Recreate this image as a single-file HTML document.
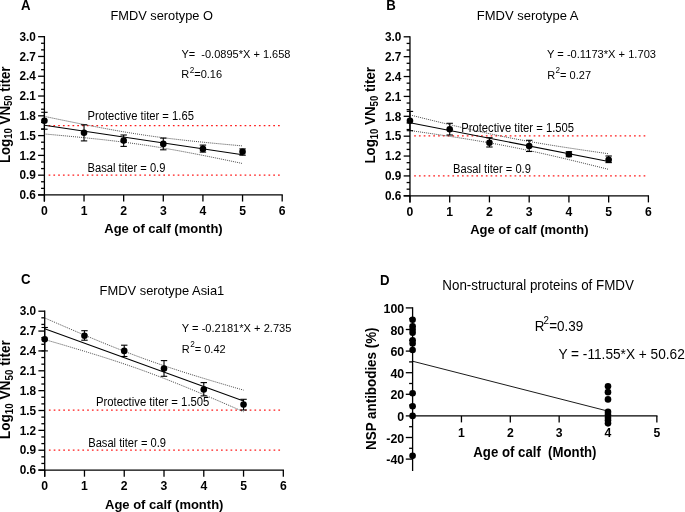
<!DOCTYPE html>
<html><head><meta charset="utf-8"><style>
html,body{margin:0;padding:0;background:#fff;}
svg{display:block;}
text{font-family:"Liberation Sans", Arial, Helvetica, sans-serif;fill:#000;}
</style></head><body>
<svg width="685" height="512" viewBox="0 0 685 512">
<rect width="685" height="512" fill="#fff"/>
<line x1="44.40" y1="36.03" x2="44.40" y2="201.56" stroke="#000" stroke-width="1.3"/>
<line x1="38.10" y1="194.96" x2="44.40" y2="194.96" stroke="#000" stroke-width="1.3"/>
<text transform="translate(35.80,199.16) scale(1,1.06)" font-size="11.8" font-weight="bold" text-anchor="end">0.6</text>
<line x1="41.05" y1="188.37" x2="44.40" y2="188.37" stroke="#000" stroke-width="1.3"/>
<line x1="41.05" y1="181.77" x2="44.40" y2="181.77" stroke="#000" stroke-width="1.3"/>
<line x1="38.10" y1="175.18" x2="44.40" y2="175.18" stroke="#000" stroke-width="1.3"/>
<text transform="translate(35.80,179.38) scale(1,1.06)" font-size="11.8" font-weight="bold" text-anchor="end">0.9</text>
<line x1="41.05" y1="168.58" x2="44.40" y2="168.58" stroke="#000" stroke-width="1.3"/>
<line x1="41.05" y1="161.99" x2="44.40" y2="161.99" stroke="#000" stroke-width="1.3"/>
<line x1="38.10" y1="155.39" x2="44.40" y2="155.39" stroke="#000" stroke-width="1.3"/>
<text transform="translate(35.80,159.59) scale(1,1.06)" font-size="11.8" font-weight="bold" text-anchor="end">1.2</text>
<line x1="41.05" y1="148.80" x2="44.40" y2="148.80" stroke="#000" stroke-width="1.3"/>
<line x1="41.05" y1="142.20" x2="44.40" y2="142.20" stroke="#000" stroke-width="1.3"/>
<line x1="38.10" y1="135.61" x2="44.40" y2="135.61" stroke="#000" stroke-width="1.3"/>
<text transform="translate(35.80,139.81) scale(1,1.06)" font-size="11.8" font-weight="bold" text-anchor="end">1.5</text>
<line x1="41.05" y1="129.01" x2="44.40" y2="129.01" stroke="#000" stroke-width="1.3"/>
<line x1="41.05" y1="122.41" x2="44.40" y2="122.41" stroke="#000" stroke-width="1.3"/>
<line x1="38.10" y1="115.82" x2="44.40" y2="115.82" stroke="#000" stroke-width="1.3"/>
<text transform="translate(35.80,120.02) scale(1,1.06)" font-size="11.8" font-weight="bold" text-anchor="end">1.8</text>
<line x1="41.05" y1="109.23" x2="44.40" y2="109.23" stroke="#000" stroke-width="1.3"/>
<line x1="41.05" y1="102.63" x2="44.40" y2="102.63" stroke="#000" stroke-width="1.3"/>
<line x1="38.10" y1="96.03" x2="44.40" y2="96.03" stroke="#000" stroke-width="1.3"/>
<text transform="translate(35.80,100.23) scale(1,1.06)" font-size="11.8" font-weight="bold" text-anchor="end">2.1</text>
<line x1="41.05" y1="89.44" x2="44.40" y2="89.44" stroke="#000" stroke-width="1.3"/>
<line x1="41.05" y1="82.84" x2="44.40" y2="82.84" stroke="#000" stroke-width="1.3"/>
<line x1="38.10" y1="76.25" x2="44.40" y2="76.25" stroke="#000" stroke-width="1.3"/>
<text transform="translate(35.80,80.45) scale(1,1.06)" font-size="11.8" font-weight="bold" text-anchor="end">2.4</text>
<line x1="41.05" y1="69.66" x2="44.40" y2="69.66" stroke="#000" stroke-width="1.3"/>
<line x1="41.05" y1="63.06" x2="44.40" y2="63.06" stroke="#000" stroke-width="1.3"/>
<line x1="38.10" y1="56.47" x2="44.40" y2="56.47" stroke="#000" stroke-width="1.3"/>
<text transform="translate(35.80,60.67) scale(1,1.06)" font-size="11.8" font-weight="bold" text-anchor="end">2.7</text>
<line x1="41.05" y1="49.87" x2="44.40" y2="49.87" stroke="#000" stroke-width="1.3"/>
<line x1="41.05" y1="43.27" x2="44.40" y2="43.27" stroke="#000" stroke-width="1.3"/>
<line x1="38.10" y1="36.68" x2="44.40" y2="36.68" stroke="#000" stroke-width="1.3"/>
<text transform="translate(35.80,40.88) scale(1,1.06)" font-size="11.8" font-weight="bold" text-anchor="end">3.0</text>
<line x1="38.10" y1="194.96" x2="282.83" y2="194.96" stroke="#000" stroke-width="1.3"/>
<line x1="44.40" y1="194.96" x2="44.40" y2="201.56" stroke="#000" stroke-width="1.3"/>
<text transform="translate(44.40,214.76) scale(1,1.06)" font-size="12.2" font-weight="bold" text-anchor="middle">0</text>
<line x1="84.03" y1="194.96" x2="84.03" y2="201.56" stroke="#000" stroke-width="1.3"/>
<text transform="translate(84.03,214.76) scale(1,1.06)" font-size="12.2" font-weight="bold" text-anchor="middle">1</text>
<line x1="123.66" y1="194.96" x2="123.66" y2="201.56" stroke="#000" stroke-width="1.3"/>
<text transform="translate(123.66,214.76) scale(1,1.06)" font-size="12.2" font-weight="bold" text-anchor="middle">2</text>
<line x1="163.29" y1="194.96" x2="163.29" y2="201.56" stroke="#000" stroke-width="1.3"/>
<text transform="translate(163.29,214.76) scale(1,1.06)" font-size="12.2" font-weight="bold" text-anchor="middle">3</text>
<line x1="202.92" y1="194.96" x2="202.92" y2="201.56" stroke="#000" stroke-width="1.3"/>
<text transform="translate(202.92,214.76) scale(1,1.06)" font-size="12.2" font-weight="bold" text-anchor="middle">4</text>
<line x1="242.55" y1="194.96" x2="242.55" y2="201.56" stroke="#000" stroke-width="1.3"/>
<text transform="translate(242.55,214.76) scale(1,1.06)" font-size="12.2" font-weight="bold" text-anchor="middle">5</text>
<line x1="282.18" y1="194.96" x2="282.18" y2="201.56" stroke="#000" stroke-width="1.3"/>
<text transform="translate(282.18,214.76) scale(1,1.06)" font-size="12.2" font-weight="bold" text-anchor="middle">6</text>
<text transform="translate(20.90,9.80) scale(1,1.06)" font-size="13.2" font-weight="bold">A</text>
<text transform="translate(110.40,20.20) scale(1,1.06)" font-size="12.8" textLength="102.5" lengthAdjust="spacingAndGlyphs">FMDV serotype O</text>
<text transform="translate(104.29,233.46) scale(1,1.06)" font-size="12.9" font-weight="bold" textLength="118.4" lengthAdjust="spacingAndGlyphs">Age of calf (month)</text>
<text transform="translate(9.80,114.82) rotate(-90) scale(1,1.06)" font-size="13.3" font-weight="bold" text-anchor="middle">Log<tspan font-size="9.58" dy="2.5">10</tspan><tspan dy="-2.5"> VN</tspan><tspan font-size="9.58" dy="2.5">50</tspan><tspan dy="-2.5"> titer</tspan></text>
<line x1="48.60" y1="125.71" x2="280.18" y2="125.71" stroke="#ff1a1a" stroke-width="1.3" stroke-dasharray="1.7 3.08"/>
<line x1="48.60" y1="175.18" x2="280.18" y2="175.18" stroke="#ff1a1a" stroke-width="1.3" stroke-dasharray="1.7 3.08"/>
<text transform="translate(87.50,119.90) scale(1,1.06)" font-size="11.2" textLength="106.4" lengthAdjust="spacingAndGlyphs">Protective titer = 1.65</text>
<text transform="translate(87.60,171.70) scale(1,1.06)" font-size="11.2" textLength="77.8" lengthAdjust="spacingAndGlyphs">Basal titer = 0.9</text>
<text transform="translate(181.40,58.00) scale(1,1.06)" font-size="11.05" textLength="109.1" lengthAdjust="spacingAndGlyphs">Y=&#160; -0.0895*X + 1.658</text>
<text transform="translate(181.30,78.00) scale(1,1.06)" font-size="11.05">R</text>
<text transform="translate(189.70,72.50) scale(1,1.06)" font-size="8.2">2</text>
<text transform="translate(194.20,78.00) scale(1,1.06)" font-size="11.05">=0.16</text>
<polyline points="44.40,116.38 48.36,117.21 52.33,118.04 56.29,118.86 60.25,119.68 64.22,120.49 68.18,121.30 72.14,122.10 76.10,122.90 80.07,123.70 84.03,124.48 87.99,125.26 91.96,126.03 95.92,126.79 99.88,127.54 103.84,128.29 107.81,129.02 111.77,129.74 115.73,130.44 119.70,131.14 123.66,131.82 127.62,132.48 131.59,133.13 135.55,133.76 139.51,134.38 143.47,134.98 147.44,135.56 151.40,136.12 155.36,136.67 159.33,137.20 163.29,137.72 167.25,138.22 171.22,138.71 175.18,139.18 179.14,139.64 183.11,140.09 187.07,140.53 191.03,140.96 194.99,141.38 198.96,141.79 202.92,142.19 206.88,142.58 210.85,142.97 214.81,143.35 218.77,143.73 222.74,144.10 226.70,144.47 230.66,144.83 234.62,145.19 238.59,145.55 242.55,145.90" fill="none" stroke="#333" stroke-width="0.9" stroke-dasharray="1 1.05"/>
<polyline points="44.40,133.98 48.36,134.34 52.33,134.69 56.29,135.05 60.25,135.41 64.22,135.78 68.18,136.15 72.14,136.53 76.10,136.91 80.07,137.30 84.03,137.69 87.99,138.10 91.96,138.51 95.92,138.92 99.88,139.35 103.84,139.79 107.81,140.24 111.77,140.70 115.73,141.17 119.70,141.66 123.66,142.16 127.62,142.68 131.59,143.21 135.55,143.76 139.51,144.32 143.47,144.91 147.44,145.50 151.40,146.12 155.36,146.75 159.33,147.40 163.29,148.06 167.25,148.74 171.22,149.44 175.18,150.14 179.14,150.86 183.11,151.60 187.07,152.34 191.03,153.09 194.99,153.85 198.96,154.62 202.92,155.40 206.88,156.19 210.85,156.98 214.81,157.78 218.77,158.58 222.74,159.39 226.70,160.20 230.66,161.02 234.62,161.84 238.59,162.67 242.55,163.50" fill="none" stroke="#333" stroke-width="0.9" stroke-dasharray="1 1.05"/>
<line x1="44.40" y1="125.18" x2="242.55" y2="154.70" stroke="#000" stroke-width="1.05"/>
<line x1="44.40" y1="112.30" x2="44.40" y2="129.20" stroke="#000" stroke-width="1.1"/>
<line x1="41.20" y1="112.30" x2="47.60" y2="112.30" stroke="#000" stroke-width="1.1"/>
<line x1="41.20" y1="129.20" x2="47.60" y2="129.20" stroke="#000" stroke-width="1.1"/>
<circle cx="44.40" cy="120.80" r="3.3"/>
<line x1="84.03" y1="124.80" x2="84.03" y2="140.90" stroke="#000" stroke-width="1.1"/>
<line x1="80.83" y1="124.80" x2="87.23" y2="124.80" stroke="#000" stroke-width="1.1"/>
<line x1="80.83" y1="140.90" x2="87.23" y2="140.90" stroke="#000" stroke-width="1.1"/>
<circle cx="84.03" cy="132.80" r="3.3"/>
<line x1="123.66" y1="135.00" x2="123.66" y2="146.40" stroke="#000" stroke-width="1.1"/>
<line x1="120.46" y1="135.00" x2="126.86" y2="135.00" stroke="#000" stroke-width="1.1"/>
<line x1="120.46" y1="146.40" x2="126.86" y2="146.40" stroke="#000" stroke-width="1.1"/>
<circle cx="123.66" cy="140.60" r="3.3"/>
<line x1="163.29" y1="138.10" x2="163.29" y2="149.80" stroke="#000" stroke-width="1.1"/>
<line x1="160.09" y1="138.10" x2="166.49" y2="138.10" stroke="#000" stroke-width="1.1"/>
<line x1="160.09" y1="149.80" x2="166.49" y2="149.80" stroke="#000" stroke-width="1.1"/>
<circle cx="163.29" cy="143.90" r="3.3"/>
<line x1="202.92" y1="145.10" x2="202.92" y2="152.10" stroke="#000" stroke-width="1.1"/>
<line x1="199.72" y1="145.10" x2="206.12" y2="145.10" stroke="#000" stroke-width="1.1"/>
<line x1="199.72" y1="152.10" x2="206.12" y2="152.10" stroke="#000" stroke-width="1.1"/>
<circle cx="202.92" cy="148.90" r="3.3"/>
<line x1="242.55" y1="148.90" x2="242.55" y2="155.20" stroke="#000" stroke-width="1.1"/>
<line x1="239.35" y1="148.90" x2="245.75" y2="148.90" stroke="#000" stroke-width="1.1"/>
<line x1="239.35" y1="155.20" x2="245.75" y2="155.20" stroke="#000" stroke-width="1.1"/>
<circle cx="242.55" cy="151.70" r="3.3"/>
<line x1="409.96" y1="36.15" x2="409.96" y2="202.40" stroke="#000" stroke-width="1.3"/>
<line x1="403.66" y1="195.80" x2="409.96" y2="195.80" stroke="#000" stroke-width="1.3"/>
<text transform="translate(401.36,200.00) scale(1,1.06)" font-size="11.8" font-weight="bold" text-anchor="end">0.6</text>
<line x1="406.61" y1="189.18" x2="409.96" y2="189.18" stroke="#000" stroke-width="1.3"/>
<line x1="406.61" y1="182.55" x2="409.96" y2="182.55" stroke="#000" stroke-width="1.3"/>
<line x1="403.66" y1="175.93" x2="409.96" y2="175.93" stroke="#000" stroke-width="1.3"/>
<text transform="translate(401.36,180.12) scale(1,1.06)" font-size="11.8" font-weight="bold" text-anchor="end">0.9</text>
<line x1="406.61" y1="169.30" x2="409.96" y2="169.30" stroke="#000" stroke-width="1.3"/>
<line x1="406.61" y1="162.68" x2="409.96" y2="162.68" stroke="#000" stroke-width="1.3"/>
<line x1="403.66" y1="156.05" x2="409.96" y2="156.05" stroke="#000" stroke-width="1.3"/>
<text transform="translate(401.36,160.25) scale(1,1.06)" font-size="11.8" font-weight="bold" text-anchor="end">1.2</text>
<line x1="406.61" y1="149.43" x2="409.96" y2="149.43" stroke="#000" stroke-width="1.3"/>
<line x1="406.61" y1="142.80" x2="409.96" y2="142.80" stroke="#000" stroke-width="1.3"/>
<line x1="403.66" y1="136.18" x2="409.96" y2="136.18" stroke="#000" stroke-width="1.3"/>
<text transform="translate(401.36,140.38) scale(1,1.06)" font-size="11.8" font-weight="bold" text-anchor="end">1.5</text>
<line x1="406.61" y1="129.55" x2="409.96" y2="129.55" stroke="#000" stroke-width="1.3"/>
<line x1="406.61" y1="122.93" x2="409.96" y2="122.93" stroke="#000" stroke-width="1.3"/>
<line x1="403.66" y1="116.30" x2="409.96" y2="116.30" stroke="#000" stroke-width="1.3"/>
<text transform="translate(401.36,120.50) scale(1,1.06)" font-size="11.8" font-weight="bold" text-anchor="end">1.8</text>
<line x1="406.61" y1="109.68" x2="409.96" y2="109.68" stroke="#000" stroke-width="1.3"/>
<line x1="406.61" y1="103.05" x2="409.96" y2="103.05" stroke="#000" stroke-width="1.3"/>
<line x1="403.66" y1="96.43" x2="409.96" y2="96.43" stroke="#000" stroke-width="1.3"/>
<text transform="translate(401.36,100.63) scale(1,1.06)" font-size="11.8" font-weight="bold" text-anchor="end">2.1</text>
<line x1="406.61" y1="89.80" x2="409.96" y2="89.80" stroke="#000" stroke-width="1.3"/>
<line x1="406.61" y1="83.17" x2="409.96" y2="83.17" stroke="#000" stroke-width="1.3"/>
<line x1="403.66" y1="76.55" x2="409.96" y2="76.55" stroke="#000" stroke-width="1.3"/>
<text transform="translate(401.36,80.75) scale(1,1.06)" font-size="11.8" font-weight="bold" text-anchor="end">2.4</text>
<line x1="406.61" y1="69.93" x2="409.96" y2="69.93" stroke="#000" stroke-width="1.3"/>
<line x1="406.61" y1="63.30" x2="409.96" y2="63.30" stroke="#000" stroke-width="1.3"/>
<line x1="403.66" y1="56.68" x2="409.96" y2="56.68" stroke="#000" stroke-width="1.3"/>
<text transform="translate(401.36,60.88) scale(1,1.06)" font-size="11.8" font-weight="bold" text-anchor="end">2.7</text>
<line x1="406.61" y1="50.05" x2="409.96" y2="50.05" stroke="#000" stroke-width="1.3"/>
<line x1="406.61" y1="43.42" x2="409.96" y2="43.42" stroke="#000" stroke-width="1.3"/>
<line x1="403.66" y1="36.80" x2="409.96" y2="36.80" stroke="#000" stroke-width="1.3"/>
<text transform="translate(401.36,41.00) scale(1,1.06)" font-size="11.8" font-weight="bold" text-anchor="end">3.0</text>
<line x1="403.66" y1="195.80" x2="649.05" y2="195.80" stroke="#000" stroke-width="1.3"/>
<line x1="409.96" y1="195.80" x2="409.96" y2="202.40" stroke="#000" stroke-width="1.3"/>
<text transform="translate(409.96,215.60) scale(1,1.06)" font-size="12.2" font-weight="bold" text-anchor="middle">0</text>
<line x1="449.70" y1="195.80" x2="449.70" y2="202.40" stroke="#000" stroke-width="1.3"/>
<text transform="translate(449.70,215.60) scale(1,1.06)" font-size="12.2" font-weight="bold" text-anchor="middle">1</text>
<line x1="489.44" y1="195.80" x2="489.44" y2="202.40" stroke="#000" stroke-width="1.3"/>
<text transform="translate(489.44,215.60) scale(1,1.06)" font-size="12.2" font-weight="bold" text-anchor="middle">2</text>
<line x1="529.18" y1="195.80" x2="529.18" y2="202.40" stroke="#000" stroke-width="1.3"/>
<text transform="translate(529.18,215.60) scale(1,1.06)" font-size="12.2" font-weight="bold" text-anchor="middle">3</text>
<line x1="568.92" y1="195.80" x2="568.92" y2="202.40" stroke="#000" stroke-width="1.3"/>
<text transform="translate(568.92,215.60) scale(1,1.06)" font-size="12.2" font-weight="bold" text-anchor="middle">4</text>
<line x1="608.66" y1="195.80" x2="608.66" y2="202.40" stroke="#000" stroke-width="1.3"/>
<text transform="translate(608.66,215.60) scale(1,1.06)" font-size="12.2" font-weight="bold" text-anchor="middle">5</text>
<line x1="648.40" y1="195.80" x2="648.40" y2="202.40" stroke="#000" stroke-width="1.3"/>
<text transform="translate(648.40,215.60) scale(1,1.06)" font-size="12.2" font-weight="bold" text-anchor="middle">6</text>
<text transform="translate(386.30,9.90) scale(1,1.06)" font-size="13.2" font-weight="bold">B</text>
<text transform="translate(476.80,20.30) scale(1,1.06)" font-size="12.8" textLength="101.7" lengthAdjust="spacingAndGlyphs">FMDV serotype A</text>
<text transform="translate(470.18,234.30) scale(1,1.06)" font-size="12.9" font-weight="bold" textLength="118.4" lengthAdjust="spacingAndGlyphs">Age of calf (month)</text>
<text transform="translate(375.36,115.30) rotate(-90) scale(1,1.06)" font-size="13.3" font-weight="bold" text-anchor="middle">Log<tspan font-size="9.58" dy="2.5">10</tspan><tspan dy="-2.5"> VN</tspan><tspan font-size="9.58" dy="2.5">50</tspan><tspan dy="-2.5"> titer</tspan></text>
<line x1="414.16" y1="135.84" x2="646.40" y2="135.84" stroke="#ff1a1a" stroke-width="1.3" stroke-dasharray="1.7 3.08"/>
<line x1="414.16" y1="175.93" x2="646.40" y2="175.93" stroke="#ff1a1a" stroke-width="1.3" stroke-dasharray="1.7 3.08"/>
<text transform="translate(461.20,131.50) scale(1,1.06)" font-size="11.2" textLength="112.9" lengthAdjust="spacingAndGlyphs">Protective titer = 1.505</text>
<text transform="translate(453.10,172.50) scale(1,1.06)" font-size="11.2" textLength="77.8" lengthAdjust="spacingAndGlyphs">Basal titer = 0.9</text>
<text transform="translate(547.00,58.10) scale(1,1.06)" font-size="11.05" textLength="109" lengthAdjust="spacingAndGlyphs">Y = -0.1173*X + 1.703</text>
<text transform="translate(547.20,78.50) scale(1,1.06)" font-size="11.05">R</text>
<text transform="translate(555.60,73.00) scale(1,1.06)" font-size="8.2">2</text>
<text transform="translate(560.10,78.50) scale(1,1.06)" font-size="11.05">= 0.27</text>
<polyline points="409.96,114.93 413.93,115.91 417.91,116.90 421.88,117.88 425.86,118.86 429.83,119.84 433.80,120.81 437.78,121.77 441.75,122.74 445.73,123.69 449.70,124.64 453.67,125.59 457.65,126.52 461.62,127.45 465.60,128.37 469.57,129.28 473.54,130.19 477.52,131.08 481.49,131.96 485.47,132.83 489.44,133.68 493.41,134.53 497.39,135.36 501.36,136.17 505.34,136.97 509.31,137.75 513.28,138.52 517.26,139.28 521.23,140.02 525.21,140.74 529.18,141.46 533.15,142.15 537.13,142.84 541.10,143.51 545.08,144.17 549.05,144.83 553.02,145.47 557.00,146.10 560.97,146.73 564.95,147.34 568.92,147.95 572.89,148.56 576.87,149.16 580.84,149.75 584.82,150.34 588.79,150.92 592.76,151.50 596.74,152.08 600.71,152.65 604.69,153.22 608.66,153.78" fill="none" stroke="#333" stroke-width="0.9" stroke-dasharray="1 1.05"/>
<polyline points="409.96,130.53 413.93,131.09 417.91,131.66 421.88,132.23 425.86,132.81 429.83,133.39 433.80,133.97 437.78,134.56 441.75,135.15 445.73,135.75 449.70,136.35 453.67,136.96 457.65,137.58 461.62,138.21 465.60,138.84 469.57,139.48 473.54,140.13 477.52,140.80 481.49,141.47 485.47,142.15 489.44,142.85 493.41,143.56 497.39,144.29 501.36,145.03 505.34,145.78 509.31,146.55 513.28,147.34 517.26,148.14 521.23,148.95 525.21,149.78 529.18,150.62 533.15,151.48 537.13,152.35 541.10,153.23 545.08,154.12 549.05,155.02 553.02,155.94 557.00,156.86 560.97,157.79 564.95,158.72 568.92,159.67 572.89,160.62 576.87,161.57 580.84,162.53 584.82,163.50 588.79,164.47 592.76,165.45 596.74,166.43 600.71,167.41 604.69,168.39 608.66,169.38" fill="none" stroke="#333" stroke-width="0.9" stroke-dasharray="1 1.05"/>
<line x1="409.96" y1="122.73" x2="608.66" y2="161.58" stroke="#000" stroke-width="1.05"/>
<line x1="409.96" y1="111.40" x2="409.96" y2="130.70" stroke="#000" stroke-width="1.1"/>
<line x1="406.76" y1="111.40" x2="413.16" y2="111.40" stroke="#000" stroke-width="1.1"/>
<line x1="406.76" y1="130.70" x2="413.16" y2="130.70" stroke="#000" stroke-width="1.1"/>
<circle cx="409.96" cy="120.70" r="3.3"/>
<line x1="449.70" y1="123.30" x2="449.70" y2="135.00" stroke="#000" stroke-width="1.1"/>
<line x1="446.50" y1="123.30" x2="452.90" y2="123.30" stroke="#000" stroke-width="1.1"/>
<line x1="446.50" y1="135.00" x2="452.90" y2="135.00" stroke="#000" stroke-width="1.1"/>
<circle cx="449.70" cy="129.30" r="3.3"/>
<line x1="489.44" y1="137.70" x2="489.44" y2="147.00" stroke="#000" stroke-width="1.1"/>
<line x1="486.24" y1="137.70" x2="492.64" y2="137.70" stroke="#000" stroke-width="1.1"/>
<line x1="486.24" y1="147.00" x2="492.64" y2="147.00" stroke="#000" stroke-width="1.1"/>
<circle cx="489.44" cy="142.70" r="3.3"/>
<line x1="529.18" y1="140.30" x2="529.18" y2="151.50" stroke="#000" stroke-width="1.1"/>
<line x1="525.98" y1="140.30" x2="532.38" y2="140.30" stroke="#000" stroke-width="1.1"/>
<line x1="525.98" y1="151.50" x2="532.38" y2="151.50" stroke="#000" stroke-width="1.1"/>
<circle cx="529.18" cy="146.00" r="3.3"/>
<line x1="568.92" y1="151.70" x2="568.92" y2="156.70" stroke="#000" stroke-width="1.1"/>
<line x1="565.72" y1="151.70" x2="572.12" y2="151.70" stroke="#000" stroke-width="1.1"/>
<line x1="565.72" y1="156.70" x2="572.12" y2="156.70" stroke="#000" stroke-width="1.1"/>
<circle cx="568.92" cy="154.20" r="3.3"/>
<line x1="608.66" y1="156.00" x2="608.66" y2="162.60" stroke="#000" stroke-width="1.1"/>
<line x1="605.46" y1="156.00" x2="611.86" y2="156.00" stroke="#000" stroke-width="1.1"/>
<line x1="605.46" y1="162.60" x2="611.86" y2="162.60" stroke="#000" stroke-width="1.1"/>
<circle cx="608.66" cy="159.70" r="3.3"/>
<line x1="44.70" y1="310.55" x2="44.70" y2="476.68" stroke="#000" stroke-width="1.3"/>
<line x1="38.40" y1="470.08" x2="44.70" y2="470.08" stroke="#000" stroke-width="1.3"/>
<text transform="translate(36.10,474.28) scale(1,1.06)" font-size="11.8" font-weight="bold" text-anchor="end">0.6</text>
<line x1="41.35" y1="463.46" x2="44.70" y2="463.46" stroke="#000" stroke-width="1.3"/>
<line x1="41.35" y1="456.84" x2="44.70" y2="456.84" stroke="#000" stroke-width="1.3"/>
<line x1="38.40" y1="450.22" x2="44.70" y2="450.22" stroke="#000" stroke-width="1.3"/>
<text transform="translate(36.10,454.42) scale(1,1.06)" font-size="11.8" font-weight="bold" text-anchor="end">0.9</text>
<line x1="41.35" y1="443.60" x2="44.70" y2="443.60" stroke="#000" stroke-width="1.3"/>
<line x1="41.35" y1="436.98" x2="44.70" y2="436.98" stroke="#000" stroke-width="1.3"/>
<line x1="38.40" y1="430.36" x2="44.70" y2="430.36" stroke="#000" stroke-width="1.3"/>
<text transform="translate(36.10,434.56) scale(1,1.06)" font-size="11.8" font-weight="bold" text-anchor="end">1.2</text>
<line x1="41.35" y1="423.74" x2="44.70" y2="423.74" stroke="#000" stroke-width="1.3"/>
<line x1="41.35" y1="417.12" x2="44.70" y2="417.12" stroke="#000" stroke-width="1.3"/>
<line x1="38.40" y1="410.50" x2="44.70" y2="410.50" stroke="#000" stroke-width="1.3"/>
<text transform="translate(36.10,414.70) scale(1,1.06)" font-size="11.8" font-weight="bold" text-anchor="end">1.5</text>
<line x1="41.35" y1="403.88" x2="44.70" y2="403.88" stroke="#000" stroke-width="1.3"/>
<line x1="41.35" y1="397.26" x2="44.70" y2="397.26" stroke="#000" stroke-width="1.3"/>
<line x1="38.40" y1="390.64" x2="44.70" y2="390.64" stroke="#000" stroke-width="1.3"/>
<text transform="translate(36.10,394.84) scale(1,1.06)" font-size="11.8" font-weight="bold" text-anchor="end">1.8</text>
<line x1="41.35" y1="384.02" x2="44.70" y2="384.02" stroke="#000" stroke-width="1.3"/>
<line x1="41.35" y1="377.40" x2="44.70" y2="377.40" stroke="#000" stroke-width="1.3"/>
<line x1="38.40" y1="370.78" x2="44.70" y2="370.78" stroke="#000" stroke-width="1.3"/>
<text transform="translate(36.10,374.98) scale(1,1.06)" font-size="11.8" font-weight="bold" text-anchor="end">2.1</text>
<line x1="41.35" y1="364.16" x2="44.70" y2="364.16" stroke="#000" stroke-width="1.3"/>
<line x1="41.35" y1="357.54" x2="44.70" y2="357.54" stroke="#000" stroke-width="1.3"/>
<line x1="38.40" y1="350.92" x2="44.70" y2="350.92" stroke="#000" stroke-width="1.3"/>
<text transform="translate(36.10,355.12) scale(1,1.06)" font-size="11.8" font-weight="bold" text-anchor="end">2.4</text>
<line x1="41.35" y1="344.30" x2="44.70" y2="344.30" stroke="#000" stroke-width="1.3"/>
<line x1="41.35" y1="337.68" x2="44.70" y2="337.68" stroke="#000" stroke-width="1.3"/>
<line x1="38.40" y1="331.06" x2="44.70" y2="331.06" stroke="#000" stroke-width="1.3"/>
<text transform="translate(36.10,335.26) scale(1,1.06)" font-size="11.8" font-weight="bold" text-anchor="end">2.7</text>
<line x1="41.35" y1="324.44" x2="44.70" y2="324.44" stroke="#000" stroke-width="1.3"/>
<line x1="41.35" y1="317.82" x2="44.70" y2="317.82" stroke="#000" stroke-width="1.3"/>
<line x1="38.40" y1="311.20" x2="44.70" y2="311.20" stroke="#000" stroke-width="1.3"/>
<text transform="translate(36.10,315.40) scale(1,1.06)" font-size="11.8" font-weight="bold" text-anchor="end">3.0</text>
<line x1="38.40" y1="470.08" x2="283.97" y2="470.08" stroke="#000" stroke-width="1.3"/>
<line x1="44.70" y1="470.08" x2="44.70" y2="476.68" stroke="#000" stroke-width="1.3"/>
<text transform="translate(44.70,489.88) scale(1,1.06)" font-size="12.2" font-weight="bold" text-anchor="middle">0</text>
<line x1="84.47" y1="470.08" x2="84.47" y2="476.68" stroke="#000" stroke-width="1.3"/>
<text transform="translate(84.47,489.88) scale(1,1.06)" font-size="12.2" font-weight="bold" text-anchor="middle">1</text>
<line x1="124.24" y1="470.08" x2="124.24" y2="476.68" stroke="#000" stroke-width="1.3"/>
<text transform="translate(124.24,489.88) scale(1,1.06)" font-size="12.2" font-weight="bold" text-anchor="middle">2</text>
<line x1="164.01" y1="470.08" x2="164.01" y2="476.68" stroke="#000" stroke-width="1.3"/>
<text transform="translate(164.01,489.88) scale(1,1.06)" font-size="12.2" font-weight="bold" text-anchor="middle">3</text>
<line x1="203.78" y1="470.08" x2="203.78" y2="476.68" stroke="#000" stroke-width="1.3"/>
<text transform="translate(203.78,489.88) scale(1,1.06)" font-size="12.2" font-weight="bold" text-anchor="middle">4</text>
<line x1="243.55" y1="470.08" x2="243.55" y2="476.68" stroke="#000" stroke-width="1.3"/>
<text transform="translate(243.55,489.88) scale(1,1.06)" font-size="12.2" font-weight="bold" text-anchor="middle">5</text>
<line x1="283.32" y1="470.08" x2="283.32" y2="476.68" stroke="#000" stroke-width="1.3"/>
<text transform="translate(283.32,489.88) scale(1,1.06)" font-size="12.2" font-weight="bold" text-anchor="middle">6</text>
<text transform="translate(21.00,284.20) scale(1,1.06)" font-size="13.2" font-weight="bold">C</text>
<text transform="translate(99.60,294.70) scale(1,1.06)" font-size="12.8" textLength="124.7" lengthAdjust="spacingAndGlyphs">FMDV serotype Asia1</text>
<text transform="translate(105.01,508.58) scale(1,1.06)" font-size="12.9" font-weight="bold" textLength="118.4" lengthAdjust="spacingAndGlyphs">Age of calf (month)</text>
<text transform="translate(10.10,389.64) rotate(-90) scale(1,1.06)" font-size="13.65" font-weight="bold" text-anchor="middle">Log<tspan font-size="9.83" dy="2.5">10</tspan><tspan dy="-2.5"> VN</tspan><tspan font-size="9.83" dy="2.5">50</tspan><tspan dy="-2.5"> titer</tspan></text>
<line x1="48.90" y1="410.17" x2="281.32" y2="410.17" stroke="#ff1a1a" stroke-width="1.3" stroke-dasharray="1.7 3.08"/>
<line x1="48.90" y1="450.22" x2="281.32" y2="450.22" stroke="#ff1a1a" stroke-width="1.3" stroke-dasharray="1.7 3.08"/>
<text transform="translate(95.90,405.90) scale(1,1.06)" font-size="11.2" textLength="113.5" lengthAdjust="spacingAndGlyphs">Protective titer = 1.505</text>
<text transform="translate(88.20,446.80) scale(1,1.06)" font-size="11.2" textLength="77.8" lengthAdjust="spacingAndGlyphs">Basal titer = 0.9</text>
<text transform="translate(181.80,332.40) scale(1,1.06)" font-size="11.05" textLength="109.6" lengthAdjust="spacingAndGlyphs">Y = -0.2181*X + 2.735</text>
<text transform="translate(181.80,352.70) scale(1,1.06)" font-size="11.05">R</text>
<text transform="translate(190.20,347.20) scale(1,1.06)" font-size="8.2">2</text>
<text transform="translate(194.70,352.70) scale(1,1.06)" font-size="11.05">= 0.42</text>
<polyline points="44.70,317.94 48.68,319.68 52.65,321.41 56.63,323.14 60.61,324.86 64.59,326.58 68.56,328.29 72.54,330.00 76.52,331.70 80.49,333.39 84.47,335.07 88.45,336.75 92.42,338.41 96.40,340.07 100.38,341.71 104.36,343.34 108.33,344.96 112.31,346.56 116.29,348.15 120.26,349.72 124.24,351.27 128.22,352.81 132.19,354.32 136.17,355.82 140.15,357.29 144.12,358.75 148.10,360.18 152.08,361.59 156.06,362.98 160.03,364.36 164.01,365.71 167.99,367.04 171.96,368.36 175.94,369.66 179.92,370.95 183.90,372.22 187.87,373.47 191.85,374.72 195.83,375.95 199.80,377.17 203.78,378.39 207.76,379.59 211.73,380.79 215.71,381.98 219.69,383.16 223.67,384.33 227.64,385.50 231.62,386.67 235.60,387.83 239.57,388.98 243.55,390.13" fill="none" stroke="#333" stroke-width="0.9" stroke-dasharray="1 1.05"/>
<polyline points="44.70,339.54 48.68,340.69 52.65,341.85 56.63,343.01 60.61,344.17 64.59,345.34 68.56,346.52 72.54,347.70 76.52,348.89 80.49,350.09 84.47,351.29 88.45,352.50 92.42,353.73 96.40,354.96 100.38,356.20 104.36,357.46 108.33,358.73 112.31,360.02 116.29,361.32 120.26,362.63 124.24,363.97 128.22,365.32 132.19,366.69 136.17,368.08 140.15,369.50 144.12,370.93 148.10,372.38 152.08,373.86 156.06,375.36 160.03,376.87 164.01,378.41 167.99,379.96 171.96,381.53 175.94,383.12 179.92,384.72 183.90,386.34 187.87,387.97 191.85,389.61 195.83,391.26 199.80,392.93 203.78,394.60 207.76,396.29 211.73,397.98 215.71,399.68 219.69,401.38 223.67,403.10 227.64,404.81 231.62,406.54 235.60,408.27 239.57,410.00 243.55,411.73" fill="none" stroke="#333" stroke-width="0.9" stroke-dasharray="1 1.05"/>
<line x1="44.70" y1="328.74" x2="243.55" y2="400.93" stroke="#000" stroke-width="1.05"/>
<line x1="44.70" y1="327.50" x2="44.70" y2="350.90" stroke="#000" stroke-width="1.1"/>
<line x1="41.50" y1="327.50" x2="47.90" y2="327.50" stroke="#000" stroke-width="1.1"/>
<line x1="41.50" y1="350.90" x2="47.90" y2="350.90" stroke="#000" stroke-width="1.1"/>
<circle cx="44.70" cy="339.20" r="3.3"/>
<line x1="84.47" y1="330.70" x2="84.47" y2="340.20" stroke="#000" stroke-width="1.1"/>
<line x1="81.27" y1="330.70" x2="87.67" y2="330.70" stroke="#000" stroke-width="1.1"/>
<line x1="81.27" y1="340.20" x2="87.67" y2="340.20" stroke="#000" stroke-width="1.1"/>
<circle cx="84.47" cy="335.70" r="3.3"/>
<line x1="124.24" y1="345.20" x2="124.24" y2="356.50" stroke="#000" stroke-width="1.1"/>
<line x1="121.04" y1="345.20" x2="127.44" y2="345.20" stroke="#000" stroke-width="1.1"/>
<line x1="121.04" y1="356.50" x2="127.44" y2="356.50" stroke="#000" stroke-width="1.1"/>
<circle cx="124.24" cy="350.90" r="3.3"/>
<line x1="164.01" y1="360.60" x2="164.01" y2="376.30" stroke="#000" stroke-width="1.1"/>
<line x1="160.81" y1="360.60" x2="167.21" y2="360.60" stroke="#000" stroke-width="1.1"/>
<line x1="160.81" y1="376.30" x2="167.21" y2="376.30" stroke="#000" stroke-width="1.1"/>
<circle cx="164.01" cy="368.60" r="3.3"/>
<line x1="203.78" y1="382.60" x2="203.78" y2="395.90" stroke="#000" stroke-width="1.1"/>
<line x1="200.58" y1="382.60" x2="206.98" y2="382.60" stroke="#000" stroke-width="1.1"/>
<line x1="200.58" y1="395.90" x2="206.98" y2="395.90" stroke="#000" stroke-width="1.1"/>
<circle cx="203.78" cy="389.50" r="3.3"/>
<line x1="243.55" y1="399.30" x2="243.55" y2="410.00" stroke="#000" stroke-width="1.1"/>
<line x1="240.35" y1="399.30" x2="246.75" y2="399.30" stroke="#000" stroke-width="1.1"/>
<line x1="240.35" y1="410.00" x2="246.75" y2="410.00" stroke="#000" stroke-width="1.1"/>
<circle cx="243.55" cy="404.60" r="3.3"/>
<line x1="412.60" y1="307.25" x2="412.60" y2="471.00" stroke="#000" stroke-width="1.3"/>
<line x1="405.80" y1="459.10" x2="412.60" y2="459.10" stroke="#000" stroke-width="1.3"/>
<text transform="translate(404.20,464.10) scale(1,1.06)" font-size="12.4" font-weight="bold" text-anchor="end">-40</text>
<line x1="409.10" y1="448.30" x2="412.60" y2="448.30" stroke="#000" stroke-width="1.3"/>
<line x1="405.80" y1="437.50" x2="412.60" y2="437.50" stroke="#000" stroke-width="1.3"/>
<text transform="translate(404.20,442.50) scale(1,1.06)" font-size="12.4" font-weight="bold" text-anchor="end">-20</text>
<line x1="409.10" y1="426.70" x2="412.60" y2="426.70" stroke="#000" stroke-width="1.3"/>
<line x1="405.80" y1="415.90" x2="412.60" y2="415.90" stroke="#000" stroke-width="1.3"/>
<text transform="translate(404.20,420.90) scale(1,1.06)" font-size="12.4" font-weight="bold" text-anchor="end">0</text>
<line x1="409.10" y1="405.10" x2="412.60" y2="405.10" stroke="#000" stroke-width="1.3"/>
<line x1="405.80" y1="394.30" x2="412.60" y2="394.30" stroke="#000" stroke-width="1.3"/>
<text transform="translate(404.20,399.30) scale(1,1.06)" font-size="12.4" font-weight="bold" text-anchor="end">20</text>
<line x1="409.10" y1="383.50" x2="412.60" y2="383.50" stroke="#000" stroke-width="1.3"/>
<line x1="405.80" y1="372.70" x2="412.60" y2="372.70" stroke="#000" stroke-width="1.3"/>
<text transform="translate(404.20,377.70) scale(1,1.06)" font-size="12.4" font-weight="bold" text-anchor="end">40</text>
<line x1="409.10" y1="361.90" x2="412.60" y2="361.90" stroke="#000" stroke-width="1.3"/>
<line x1="405.80" y1="351.10" x2="412.60" y2="351.10" stroke="#000" stroke-width="1.3"/>
<text transform="translate(404.20,356.10) scale(1,1.06)" font-size="12.4" font-weight="bold" text-anchor="end">60</text>
<line x1="409.10" y1="340.30" x2="412.60" y2="340.30" stroke="#000" stroke-width="1.3"/>
<line x1="405.80" y1="329.50" x2="412.60" y2="329.50" stroke="#000" stroke-width="1.3"/>
<text transform="translate(404.20,334.50) scale(1,1.06)" font-size="12.4" font-weight="bold" text-anchor="end">80</text>
<line x1="409.10" y1="318.70" x2="412.60" y2="318.70" stroke="#000" stroke-width="1.3"/>
<line x1="405.80" y1="307.90" x2="412.60" y2="307.90" stroke="#000" stroke-width="1.3"/>
<text transform="translate(404.20,312.90) scale(1,1.06)" font-size="12.4" font-weight="bold" text-anchor="end">100</text>
<line x1="412.60" y1="415.90" x2="657.50" y2="415.90" stroke="#000" stroke-width="1.3"/>
<line x1="461.45" y1="415.90" x2="461.45" y2="422.40" stroke="#000" stroke-width="1.3"/>
<text transform="translate(461.45,436.90) scale(1,1.06)" font-size="12.2" font-weight="bold" text-anchor="middle">1</text>
<line x1="510.30" y1="415.90" x2="510.30" y2="422.40" stroke="#000" stroke-width="1.3"/>
<text transform="translate(510.30,436.90) scale(1,1.06)" font-size="12.2" font-weight="bold" text-anchor="middle">2</text>
<line x1="559.15" y1="415.90" x2="559.15" y2="422.40" stroke="#000" stroke-width="1.3"/>
<text transform="translate(559.15,436.90) scale(1,1.06)" font-size="12.2" font-weight="bold" text-anchor="middle">3</text>
<line x1="608.00" y1="415.90" x2="608.00" y2="422.40" stroke="#000" stroke-width="1.3"/>
<text transform="translate(608.00,436.90) scale(1,1.06)" font-size="12.2" font-weight="bold" text-anchor="middle">4</text>
<line x1="656.85" y1="415.90" x2="656.85" y2="422.40" stroke="#000" stroke-width="1.3"/>
<text transform="translate(656.85,436.90) scale(1,1.06)" font-size="12.2" font-weight="bold" text-anchor="middle">5</text>
<text transform="translate(379.90,284.80) scale(1,1.06)" font-size="13.2" font-weight="bold">D</text>
<text transform="translate(442.30,289.90) scale(1,1.06)" font-size="13.3" textLength="191.6" lengthAdjust="spacingAndGlyphs">Non-structural proteins of FMDV</text>
<text transform="translate(473.30,457.00) scale(1,1.06)" font-size="13.2" font-weight="bold" textLength="123.2" lengthAdjust="spacingAndGlyphs">Age of calf&#160; (Month)</text>
<text transform="translate(375.6,388.7) rotate(-90) scale(1,1.06)" font-size="13.4" font-weight="bold" text-anchor="middle">NSP antibodies (%)</text>
<text transform="translate(534.80,330.60) scale(1,1.06)" font-size="13.4">R</text>
<text transform="translate(543.60,323.60) scale(1,1.06)" font-size="9.8">2</text>
<text transform="translate(549.20,330.60) scale(1,1.06)" font-size="13.4" textLength="34.0" lengthAdjust="spacingAndGlyphs">=0.39</text>
<text transform="translate(558.40,358.60) scale(1,1.06)" font-size="13.6" textLength="126.4" lengthAdjust="spacingAndGlyphs">Y = -11.55*X + 50.62</text>
<line x1="412.60" y1="361.23" x2="608.00" y2="411.13" stroke="#000" stroke-width="0.9"/>
<circle cx="412.60" cy="319.78" r="3.3"/>
<circle cx="412.60" cy="326.26" r="3.3"/>
<circle cx="412.60" cy="329.50" r="3.3"/>
<circle cx="412.60" cy="332.74" r="3.3"/>
<circle cx="412.60" cy="340.30" r="3.3"/>
<circle cx="412.60" cy="343.54" r="3.3"/>
<circle cx="412.60" cy="350.02" r="3.3"/>
<circle cx="412.60" cy="393.22" r="3.3"/>
<circle cx="412.60" cy="406.18" r="3.3"/>
<circle cx="412.60" cy="415.90" r="3.3"/>
<circle cx="412.60" cy="455.86" r="3.3"/>
<circle cx="608.00" cy="386.31" r="3.3"/>
<circle cx="608.00" cy="392.14" r="3.3"/>
<circle cx="608.00" cy="399.38" r="3.3"/>
<circle cx="608.00" cy="411.90" r="3.3"/>
<circle cx="608.00" cy="414.82" r="3.3"/>
<circle cx="608.00" cy="417.84" r="3.3"/>
<circle cx="608.00" cy="420.22" r="3.3"/>
<circle cx="608.00" cy="423.35" r="3.3"/>
</svg>
</body></html>
